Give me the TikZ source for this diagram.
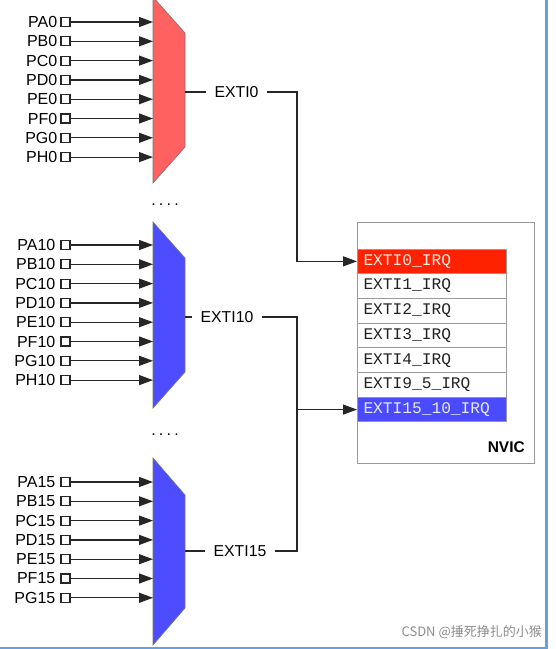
\documentclass[tikz,border=0pt]{standalone}
\usepackage{fontspec}
\setmainfont{Liberation Sans}
\newfontfamily\irqfont{Liberation Mono}
\newfontfamily\cjk{Noto Sans CJK SC}
\usetikzlibrary{arrows.meta}
\definecolor{muxred}{HTML}{FF6060}
\definecolor{muxblue}{HTML}{4D4DFF}
\definecolor{rowred}{HTML}{FF2200}
\definecolor{rowblue}{HTML}{4A4AFF}
\definecolor{framegray}{HTML}{999999}
\definecolor{edgeblue}{HTML}{6A9FDF}
\definecolor{irqtext}{HTML}{222222}
\begin{document}
\begin{tikzpicture}[x=1pt,y=-1pt,
  lbl/.style={anchor=east,inner sep=0pt,font=\fontsize{16}{18}\selectfont},
  pin/.style={draw=black!85,line width=1.1pt,minimum size=9pt,inner sep=0pt},
  wire/.style={draw=black!85,line width=1.2pt},
  arr/.style={wire,-{Triangle[length=14pt,width=10pt]}},
  muxshape/.style={draw=black!55,line width=0.6pt},
  exti/.style={inner xsep=8pt,inner ysep=2pt,font=\fontsize{15.8}{18}\selectfont},
  irqrow/.style={draw=framegray,line width=1pt,anchor=north west,minimum height=24.7pt,
    inner xsep=6pt,inner ysep=0pt,text width=137pt,align=left,text=irqtext,
    font=\irqfont\fontsize{16.2}{18}\selectfont},
  dotsnode/.style={inner sep=0pt,font=\fontsize{16}{18}\selectfont}
]
\useasboundingbox (0,0) rectangle (556,649);
\clip (0,0) rectangle (556,649);

% ---------- multiplexers ----------
\fill[muxred] (153,-3) -- (185,33) -- (185,147) -- (153,183) -- cycle;
\draw[muxshape] (153,-3) -- (185,33) -- (185,147) -- (153,183) -- cycle;
\fill[muxblue] (153,222) -- (185,258) -- (185,372) -- (153,408) -- cycle;
\draw[muxshape] (153,222) -- (185,258) -- (185,372) -- (153,408) -- cycle;
\fill[muxblue] (153,458) -- (185,495) -- (185,608) -- (153,645) -- cycle;
\draw[muxshape] (153,458) -- (185,495) -- (185,608) -- (153,645) -- cycle;

% ---------- inputs ----------
\foreach \p [count=\k from 0] in {A,B,C,D,E,F,G,H} {
  \pgfmathsetmacro\yy{22+19.3*\k}
  \node[lbl] (la\p) at (57.5,\yy) {P\p0};
  \node[pin] (sa\p) at (65.5,\yy) {};
  \coordinate (ma\p) at (153,\yy);
  \draw[arr] (sa\p.east) -- (ma\p);
}
\foreach \p [count=\k from 0] in {A,B,C,D,E,F,G,H} {
  \pgfmathsetmacro\yy{245+19.3*\k}
  \node[lbl] (lb\p) at (55.5,\yy) {P\p10};
  \node[pin] (sb\p) at (65.5,\yy) {};
  \coordinate (mb\p) at (153,\yy);
  \draw[arr] (sb\p.east) -- (mb\p);
}
\foreach \p [count=\k from 0] in {A,B,C,D,E,F,G} {
  \pgfmathsetmacro\yy{482+19.3*\k}
  \node[lbl] (lc\p) at (55.5,\yy) {P\p15};
  \node[pin] (sc\p) at (65.5,\yy) {};
  \coordinate (mc\p) at (153,\yy);
  \draw[arr] (sc\p.east) -- (mc\p);
}

% ---------- dots ----------
\node[dotsnode] (dots1) at (165,205) {.\hspace{3.2pt}.\hspace{3.2pt}.\hspace{3.2pt}.};
\node[dotsnode] (dots2) at (165,435) {.\hspace{3.2pt}.\hspace{3.2pt}.\hspace{3.2pt}.};

% ---------- NVIC ----------
\node[draw=framegray,line width=1pt,anchor=north west,minimum width=177pt,
      minimum height=241pt,inner sep=0pt] (nvic) at (357,222) {};
\node[irqrow,fill=rowred,text=white!90!rowred] (irq0) at (357,248.5) {EXTI0\_IRQ};
\node[irqrow] (irq1) at (357,273.2) {EXTI1\_IRQ};
\node[irqrow] (irq2) at (357,297.9) {EXTI2\_IRQ};
\node[irqrow] (irq3) at (357,322.6) {EXTI3\_IRQ};
\node[irqrow] (irq4) at (357,347.3) {EXTI4\_IRQ};
\node[irqrow] (irq5) at (357,372.0) {EXTI9\_5\_IRQ};
\node[irqrow,fill=rowblue,text=white!88!rowblue] (irq6) at (357,396.7) {EXTI15\_10\_IRQ};
\node[anchor=east,inner sep=0pt,font=\bfseries\fontsize{15.5}{18}\selectfont] (nviclbl) at (525,447) {NVIC};

% ---------- EXTI lines ----------
\coordinate (oa) at (185,92);
\coordinate (ob) at (185,317);
\coordinate (oc) at (185,551);
\node[exti] (e0) at (236.5,92) {EXTI0};
\node[exti] (e10) at (227,317) {EXTI10};
\node[exti] (e15) at (240,551) {EXTI15};
\draw[wire] (oa) -- (e0.west);
\draw[wire] (ob) -- (e10.west);
\draw[wire] (oc) -- (e15.west);
\coordinate (bend0) at (297,92);
\draw[arr] (e0.east) -- (bend0) |- (irq0.west);
\coordinate (j) at ([xshift=-60pt]irq6.west);
\draw[wire] (e10.east) -| (j);
\draw[wire] (e15.east) -| (j);
\draw[arr] (j) -- (irq6.west);

% ---------- frame and watermark ----------
\draw[edgeblue,line width=2.2pt] (546.5,0) -- (546.5,648) -- (0,648);
\node[anchor=east,inner sep=0pt,text=black!45,font=\cjk\fontsize{13}{15}\selectfont] (wm) at (542,632) {CSDN @捶死挣扎的小猴};
\end{tikzpicture}
\end{document}
